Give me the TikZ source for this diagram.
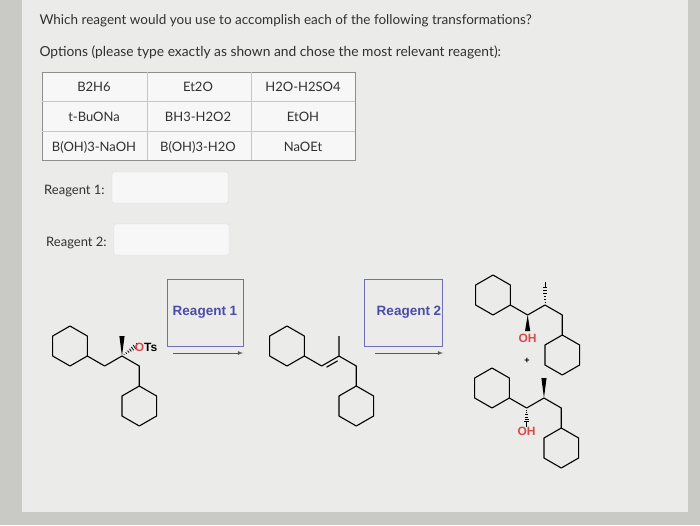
\documentclass[tikz,border=0pt]{standalone}
\usepackage{fontspec}
\setmainfont{Lato}
\newfontfamily\arial{Liberation Sans}
\usetikzlibrary{calc}
\definecolor{bg}{HTML}{C9CAC6}
\definecolor{panel}{HTML}{EBECEA}
\definecolor{cellline}{HTML}{8E8E8E}
\definecolor{rbox}{HTML}{6E6FB5}
\definecolor{rtxt}{HTML}{4A4CA8}
\definecolor{ohred}{HTML}{D84A4A}
\definecolor{txt}{HTML}{303030}
\newcommand\LL{20}
\newcommand\hexring[1]{\draw[bond] (#1)+(30:\LL)--+(90:\LL)--+(150:\LL)--+(210:\LL)--+(270:\LL)--+(330:\LL)--cycle;}
\newcommand\hashb[2]{\foreach \i in {1,...,7}{\draw[line width=0.8pt] ($(#1)!\i/7!(#2)!{\i*0.4pt}!90:(#2)$) -- ($(#1)!\i/7!(#2)!{-\i*0.4pt}!90:(#2)$);}}
\newcommand\wedgeb[2]{\fill ($(#1)$) -- ($(#2)!2.6pt!90:(#1)$) -- ($(#2)!-2.6pt!90:(#1)$) -- cycle;}
\begin{document}
\begin{tikzpicture}[x=1pt,y=-1pt,
  bond/.style={line width=1.1pt,line join=round},
  cell/.style={font=\fontsize{13}{15}\selectfont,text=txt},
  lbl/.style={font=\arial\bfseries\fontsize{12}{14}\selectfont},
  rlab/.style={font=\arial\bfseries\fontsize{13.5}{15}\selectfont,text=rtxt}]
\useasboundingbox (0,0) rectangle (700,525);
\fill[bg] (0,0) rectangle (700,525);
\fill[panel] (22,0) rectangle (688,512);
% header
\node[anchor=west,font=\fontsize{13.5}{16}\selectfont,text=txt] (q) at (36,21) {Which reagent would you use to accomplish each of the following transformations?};
\node[anchor=west,font=\fontsize{13.8}{16}\selectfont,text=txt] (opt) at (36,52) {Options (please type exactly as shown and chose the most relevant reagent):};
% table
\fill[white!60!panel] (42,72) rectangle (355,160);
\draw[cellline,line width=0.6pt] (42,72) rectangle (355,160);
\draw[cellline!50,line width=0.6pt] (42,101)--(355,101) (42,131)--(355,131);
\draw[cellline!50,line width=0.6pt] (147,72)--(147,160) (251,72)--(251,160);
\node[cell] (t11) at (94,87) {B2H6};
\node[cell] (t12) at (198,87) {Et2O};
\node[cell] (t13) at (303,87) {H2O-H2SO4};
\node[cell] (t21) at (94,117) {t-BuONa};
\node[cell] (t22) at (198,117) {BH3-H2O2};
\node[cell] (t23) at (303,117) {EtOH};
\node[cell] (t31) at (94,147) {B(OH)3-NaOH};
\node[cell] (t32) at (198,147) {B(OH)3-H2O};
\node[cell] (t33) at (303,147) {NaOEt};
% inputs
\node[cell,anchor=west,inner sep=0pt] (r1l) at (44,191) {Reagent 1:};
\node[cell,anchor=west,inner sep=0pt] (r2l) at (46,243) {Reagent 2:};
\draw[white!70!gray,fill=white!60!panel,rounded corners=1pt] (112,172) rectangle (228,203);
\draw[white!70!gray,fill=white!60!panel,rounded corners=1pt] (114,224) rectangle (229,255);
% reagent boxes and arrows
\draw[rbox,line width=1pt] (167,279) rectangle (243,346);
\node[rlab] (rg1) at (205,312) {Reagent 1};
\draw[gray!70!black,line width=0.8pt,-latex] (173,353) -- (243,353);
\draw[rbox,line width=1pt] (364,279) rectangle (442,346);
\node[rlab] (rg2) at (409,312) {Reagent 2};
\draw[gray!70!black,line width=0.8pt,-latex] (375,353) -- (443,353);
% molecule 1
\coordinate (m1r) at (70,346);
\coordinate (m1a) at ($(m1r)+(30:\LL)$);
\coordinate (m1b) at ($(m1a)+(30:\LL)$);
\coordinate (m1c) at ($(m1b)+(330:\LL)$);
\coordinate (m1me) at ($(m1c)+(270:\LL)$);
\coordinate (m1o) at ($(m1c)+(325:\LL*0.9)$);
\coordinate (m1d) at ($(m1c)+(30:\LL)$);
\coordinate (m1e) at ($(m1d)+(90:\LL)$);
\coordinate (m1r2) at ($(m1e)+(90:\LL)$);
\hexring{m1r}\hexring{m1r2}
\draw[bond] (m1a)--(m1b)--(m1c)--(m1d)--(m1e);
\wedgeb{m1c}{m1me}
\hashb{m1c}{m1o}
\node[lbl,anchor=south west,inner sep=0pt] (ots) at ($(m1o)+(-2,6)$) {\textcolor{ohred}{O}Ts};
% molecule 2
\coordinate (m2r) at (287,346);
\coordinate (m2a) at ($(m2r)+(30:\LL)$);
\coordinate (m2b) at ($(m2a)+(30:\LL)$);
\coordinate (m2c) at ($(m2b)+(330:\LL)$);
\coordinate (m2me) at ($(m2c)+(270:\LL)$);
\coordinate (m2d) at ($(m2c)+(30:\LL)$);
\coordinate (m2e) at ($(m2d)+(90:\LL)$);
\coordinate (m2r2) at ($(m2e)+(90:\LL)$);
\hexring{m2r}\hexring{m2r2}
\draw[bond] (m2a)--(m2b)--(m2c)--(m2d)--(m2e) (m2c)--(m2me);
\draw[bond] ($(m2b)!0.18!(m2c)+(60:3.5)$) -- ($(m2b)!0.82!(m2c)+(60:3.5)$);
% product top
\coordinate (p1r) at (493,295);
\coordinate (p1a) at ($(p1r)+(30:\LL)$);
\coordinate (p1b) at ($(p1a)+(30:\LL)$);
\coordinate (p1c) at ($(p1b)+(330:\LL)$);
\coordinate (p1me) at ($(p1c)+(270:\LL)$);
\coordinate (p1oh) at ($(p1b)+(90:\LL*0.8)$);
\coordinate (p1d) at ($(p1c)+(30:\LL)$);
\coordinate (p1e) at ($(p1d)+(90:\LL)$);
\coordinate (p1r2) at ($(p1e)+(90:\LL)$);
\hexring{p1r}\hexring{p1r2}
\draw[bond] (p1a)--(p1b)--(p1c)--(p1d)--(p1e);
\hashb{p1c}{p1me}
\wedgeb{p1b}{p1oh}
\node[lbl,text=ohred] (oh1) at ($(p1b)+(90:\LL*1.15)$) {OH};
\node[lbl,font=\arial\bfseries\fontsize{9}{10}\selectfont] (plus) at (527,361) {+};
% product bottom
\coordinate (p2r) at (492,388);
\coordinate (p2a) at ($(p2r)+(30:\LL)$);
\coordinate (p2b) at ($(p2a)+(30:\LL)$);
\coordinate (p2c) at ($(p2b)+(330:\LL)$);
\coordinate (p2me) at ($(p2c)+(270:\LL)$);
\coordinate (p2oh) at ($(p2b)+(90:\LL*0.8)$);
\coordinate (p2d) at ($(p2c)+(30:\LL)$);
\coordinate (p2e) at ($(p2d)+(90:\LL)$);
\coordinate (p2r2) at ($(p2e)+(90:\LL)$);
\hexring{p2r}\hexring{p2r2}
\draw[bond] (p2a)--(p2b)--(p2c)--(p2d)--(p2e);
\wedgeb{p2c}{p2me}
\hashb{p2b}{p2oh}
\node[lbl,text=ohred] (oh2) at ($(p2b)+(90:\LL*1.15)$) {OH};
\end{tikzpicture}
\end{document}
